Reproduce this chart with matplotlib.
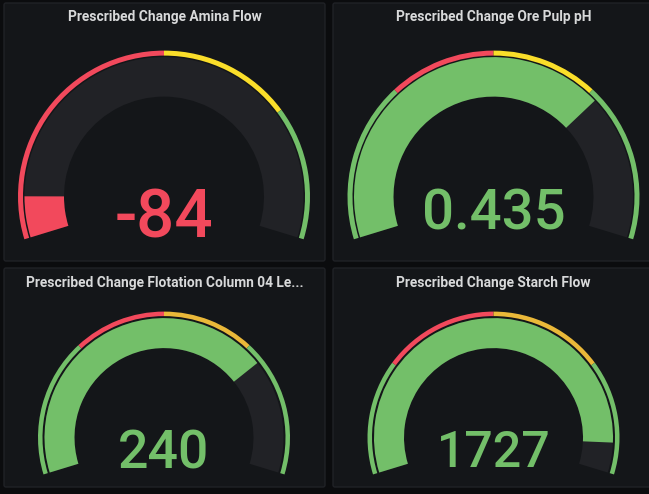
import matplotlib
matplotlib.use("Agg")
import matplotlib.pyplot as plt
from matplotlib.patches import Wedge, FancyBboxPatch

# ---------------- data ----------------
titles = ["Prescribed Change Amina Flow",
          "Prescribed Change Ore Pulp pH",
          "Prescribed Change Flotation Column 04 Le...",
          "Prescribed Change Starch Flow"]
values = [-84, 0.435, 240, 1727]
value_labels = ["-84", "0.435", "240", "1727"]
mins = [-100, -1, -500, -2000]
maxs = [100, 1, 500, 2000]
# threshold steps: (start value, colour); first step starts at min
thresholds = [
    [(-100, "#F2495C"), (0, "#FADE2A"), (50, "#73BF69")],
    [(-1, "#73BF69"), (-0.4, "#F2495C"), (0, "#FADE2A"), (0.4, "#73BF69")],
    [(-500, "#73BF69"), (-200, "#F2495C"), (0, "#EAB839"), (200, "#73BF69")],
    [(-2000, "#73BF69"), (-1000, "#F2495C"), (0, "#EAB839"), (1000, "#73BF69")],
]

# ---------------- layout (image pixel coords) ----------------
W, H = 649, 494
panels = [(4, 3, 321, 258), (333, 3, 322, 258), (4, 268, 321, 219), (333, 268, 322, 219)]
centers = [(164, 196.6), (493.5, 196.6), (164, 437.6), (493.5, 437.6)]
r_thr = [146, 146, 126, 126]
thr_w = [5, 5, 4.5, 4.5]
r_val_out = [139.5, 139.5, 119.5, 119.5]
r_val_in = [100, 100, 89.5, 89.5]
val_fs = [48.5, 40.5, 38.5, 36]
val_base = [237, 230, 468, 467]
title_y = [17, 17, 283, 283]

A = 17.0
START = 180 + A
SPAN = 180 + 2 * A

BG = "#0b0c0e"
PANEL = "#141619"
BORDER = "#202226"
TRACK = "#212226"
TITLE_C = "#d8d9da"

fig = plt.figure(figsize=(W / 100, H / 100), dpi=100)
fig.patch.set_facecolor(BG)
ax = fig.add_axes([0, 0, 1, 1])
ax.set_xlim(0, W)
ax.set_ylim(0, H)
ax.set_aspect("auto")
ax.axis("off")
ax.set_facecolor(BG)


def Y(y):
    return H - y


def ang(frac):
    return START - frac * SPAN


for i in range(4):
    px, py, pw, ph = panels[i]
    ax.add_patch(FancyBboxPatch((px, Y(py + ph)), pw, ph,
                                boxstyle="round,pad=0,rounding_size=2",
                                facecolor=PANEL, edgecolor=BORDER, linewidth=1))
    cx, cy = centers[i]
    cyd = Y(cy)
    lo, hi = mins[i], maxs[i]

    def frac(v):
        return min(max((v - lo) / (hi - lo), 0), 1)

    # track
    ax.add_patch(Wedge((cx, cyd), r_val_out[i], ang(1), ang(0),
                       width=r_val_out[i] - r_val_in[i], facecolor=TRACK, edgecolor="none"))
    # value fill
    vcol = thresholds[i][0][1]
    for s, c in thresholds[i]:
        if values[i] >= s:
            vcol = c
    fv = frac(values[i])
    ax.add_patch(Wedge((cx, cyd), r_val_out[i], ang(fv), ang(0),
                       width=r_val_out[i] - r_val_in[i], facecolor=vcol, edgecolor="none"))
    # threshold arc
    steps = thresholds[i]
    for k, (s, c) in enumerate(steps):
        e = steps[k + 1][0] if k + 1 < len(steps) else hi
        f0, f1 = frac(s), frac(e)
        ax.add_patch(Wedge((cx, cyd), r_thr[i], ang(f1), ang(f0),
                           width=thr_w[i], facecolor=c, edgecolor="none"))
    # value text
    ax.text(cx, Y(val_base[i]), value_labels[i], color=vcol, fontsize=val_fs[i],
            family="Roboto", fontweight="medium", ha="center", va="baseline")
    # title
    ax.text(px + pw / 2 if i % 2 == 0 else 493.5, Y(title_y[i]), titles[i], color=TITLE_C,
            fontsize=9.9, family="Roboto", fontweight="bold", ha="center", va="center")

fig.savefig("out.png", dpi=100, facecolor=BG)
